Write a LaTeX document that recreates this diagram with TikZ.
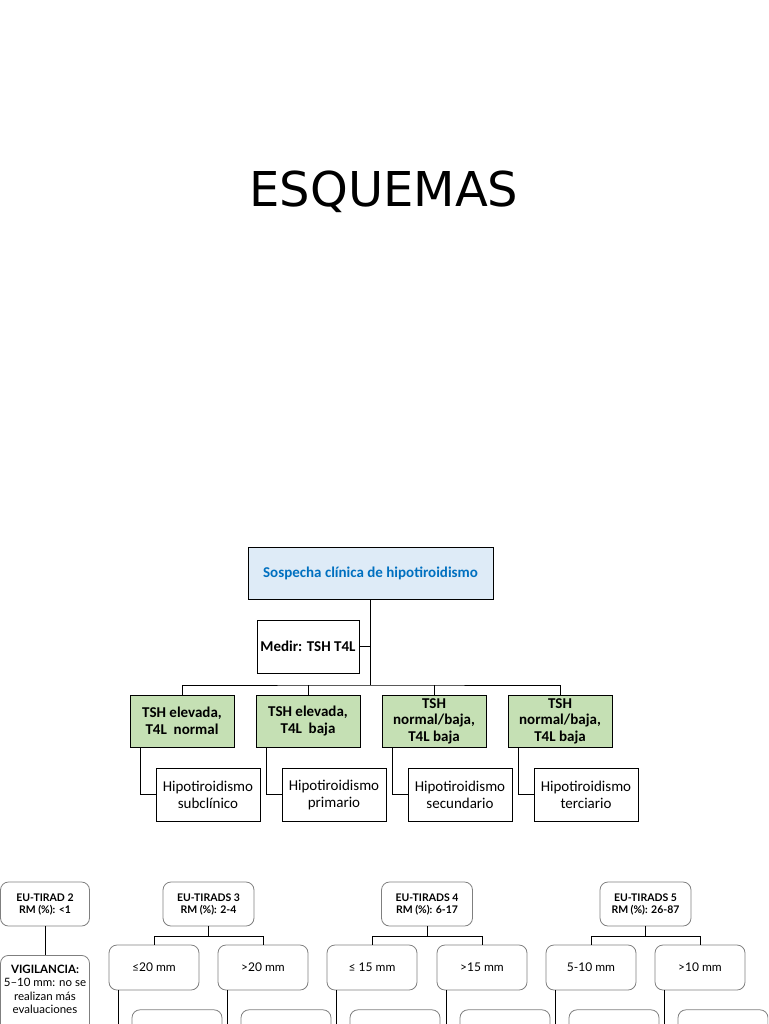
\documentclass[tikz,border=0pt]{standalone}
\usepackage{fontspec}
\usetikzlibrary{calc}
\setmainfont{Carlito}
\newfontfamily\lato{Lato}
\newfontfamily\dejavu{DejaVu Sans}
\definecolor{blueF}{HTML}{DEEBF7}
\definecolor{blueT}{HTML}{0070C0}
\definecolor{greenF}{HTML}{C5E0B4}
\definecolor{grayB}{HTML}{7F7F7F}
\tikzset{
  box/.style={draw=black, line width=0.8pt, align=center, inner sep=2pt},
  topbox/.style={box, fill=blueF, minimum width=245pt, minimum height=52pt, font=\fontsize{15}{17}\selectfont\bfseries, text=blueT},
  medbox/.style={box, minimum width=102pt, minimum height=53pt, font=\fontsize{15}{17}\selectfont\bfseries},
  grbox/.style={box, fill=greenF, minimum width=104pt, minimum height=52pt, font=\fontsize{15}{16.5}\selectfont\bfseries},
  resbox/.style={box, minimum width=104pt, minimum height=53pt, font=\fontsize{15}{17}\selectfont},
  rbox/.style={draw=grayB, line width=0.8pt, rounded corners=8pt, align=center, inner sep=2pt},
  headbox/.style={rbox, minimum width=91pt, minimum height=44pt, font=\lato\fontsize{10.5}{12}\selectfont\bfseries},
  childbox/.style={rbox, minimum width=90pt, minimum height=45pt, font=\lato\fontsize{12}{14}\selectfont},
  gcbox/.style={rbox, minimum width=90pt, minimum height=45pt, anchor=north},
  conn/.style={draw=black, line width=0.8pt},
}
\begin{document}
\begin{tikzpicture}[x=1pt,y=-1pt]
\useasboundingbox (0,0) rectangle (768,1024);
\clip (0,0) rectangle (768,1024);
\node[font=\dejavu\fontsize{48}{56}\selectfont] (title) at (384,192) {ESQUEMAS};

% upper diagram
\node[topbox] (sos) at (370.5,573) {Sospecha clínica de hipotiroidismo};
\node[medbox] (med) at (308,646.5) {Medir: TSH T4L};
\coordinate (bus) at (370.5,685);
\node[grbox] (g1) at (182,721) {TSH elevada,\\T4L\ \ normal};
\node[grbox] (g2) at (308,721) {TSH elevada,\\T4L\ \ baja};
\node[grbox] (g3) at (434,721) {TSH\\normal/baja,\\T4L baja};
\node[grbox] (g4) at (560,721) {TSH\\normal/baja,\\T4L baja};
\node[resbox] (r1) at (208,794.5) {Hipotiroidismo\\subclínico};
\node[resbox] (r2) at (334,794.5) {Hipotiroidismo\\primario};
\node[resbox] (r3) at (460,794.5) {Hipotiroidismo\\secundario};
\node[resbox] (r4) at (586,794.5) {Hipotiroidismo\\terciario};
\draw[conn] (sos.south) -- (bus);
\draw[conn] (med.east) -- (med.east -| bus);
\draw[conn] (g1.north) |- (bus) -| (g4.north);
\draw[conn] (g2.north) -- (g2.north |- bus);
\draw[conn] (g3.north) -- (g3.north |- bus);
\foreach \i in {1,2,3,4}{
  \draw[conn] ([xshift=11pt]g\i.south west) |- (r\i.west);
}

% lower diagram
\node[headbox, minimum width=89pt] (t2) at (45,904) {EU-TIRAD 2\\RM (\%): <1};
\node[rbox, minimum width=89pt, minimum height=120pt, anchor=north] (vig) at (45,955) {};
\node[anchor=north, align=center, inner sep=0pt, font=\lato\fontsize{11.5}{13.3}\selectfont] (vigt) at ([yshift=-10pt]vig.north) {\textbf{VIGILANCIA:}\\5–10 mm: no se\\realizan más\\evaluaciones};
\draw[conn] (t2.south) -- (vig.north);

\node[headbox] (t3) at (208.5,904) {EU-TIRADS 3\\RM (\%): 2-4};
\node[headbox] (t4) at (427,904) {EU-TIRADS 4\\RM (\%): 6-17};
\node[headbox] (t5) at (645.5,904) {EU-TIRADS 5\\RM (\%): 26-87};

\node[childbox] (c3a) at (154,967.5) {≤20 mm};
\node[childbox] (c3b) at (263,967.5) {>20 mm};
\node[childbox] (c4a) at (372,967.5) {≤ 15 mm};
\node[childbox] (c4b) at (482,967.5) {>15 mm};
\node[childbox] (c5a) at (591,967.5) {5-10 mm};
\node[childbox] (c5b) at (700,967.5) {>10 mm};

\foreach \h/\a/\b in {3/c3a/c3b,4/c4a/c4b,5/c5a/c5b}{
  \coordinate (b\h) at ($(t\h.south)+(0,10)$);
  \draw[conn] (t\h.south) -- (b\h);
  \draw[conn] (\a.north) |- (b\h) -| (\b.north);
}
\foreach \c in {c3a,c3b,c4a,c4b,c5a,c5b}{
  \node[gcbox] (gc\c) at ($(\c.south)+(23,19)$) {};
  \draw[conn] ([xshift=10pt]\c.south west) |- (gc\c.west);
}
\end{tikzpicture}
\end{document}
